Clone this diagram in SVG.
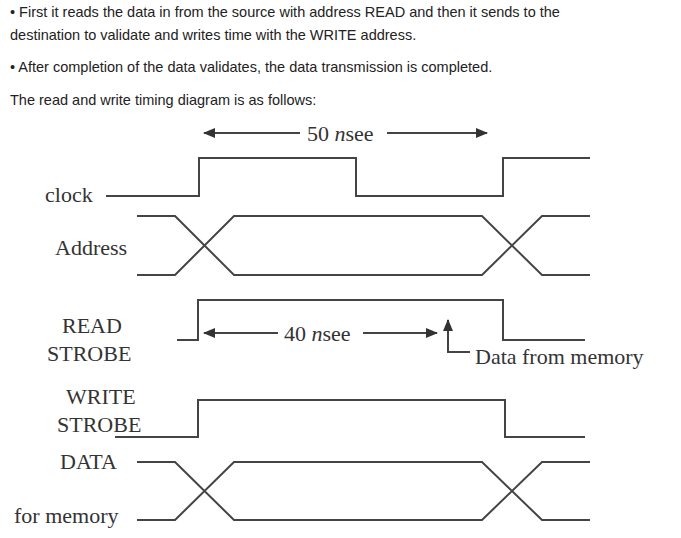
<svg xmlns="http://www.w3.org/2000/svg" width="681" height="538" viewBox="0 0 681 538">
<style>
.t{font-family:"Liberation Sans",Arial,sans-serif;font-size:14.5px;fill:#222}
.l{font-family:"Liberation Serif","Times New Roman",serif;font-size:22px;fill:#333}
.w{fill:none;stroke:#444;stroke-width:2}
</style>
<defs><marker id="a" markerWidth="12" markerHeight="10" refX="11" refY="5" orient="auto" markerUnits="userSpaceOnUse"><path d="M0,0 L12,5 L0,10 Z" fill="#333"/></marker></defs>
<rect width="681" height="538" fill="#fff"/>
<g id="text">
<text class="t" x="10" y="17">• First it reads the data in from the source with address READ and then it sends to the</text>
<text class="t" x="10" y="40">destination to validate and writes time with the WRITE address.</text>
<text class="t" x="10" y="72">• After completion of the data validates, the data transmission is completed.</text>
<text class="t" x="10" y="105">The read and write timing diagram is as follows:</text>
</g>
<g id="clock"><text class="l" x="45" y="202">clock</text><path class="w" d="M106,196H199V158H356V196H503V158H590"/></g>
<g id="address"><text class="l" x="55" y="255">Address</text><path class="w" d="M137,216H175L234,275H482L542,216H590M137,275H175L234,216H482L542,275H590"/></g>
<g id="read"><text class="l" x="62" y="333">READ</text><text class="l" x="47" y="361">STROBE</text><path class="w" d="M177,340H198V300H503V340H585"/></g>
<g id="write"><text class="l" x="66" y="404">WRITE</text><text class="l" x="57" y="432">STROBE</text><path class="w" d="M115,437H198V400H505V437H585"/></g>
<g id="data"><text class="l" x="60" y="469">DATA</text><text class="l" x="14" y="523">for memory</text><path class="w" d="M137,462H175L234,520H482L542,462H590M137,520H175L234,462H482L542,520H590"/></g>
<g id="connectors">
<path class="w" d="M300,133H204" marker-end="url(#a)"/><path class="w" d="M387,133H487" marker-end="url(#a)"/>
<text class="l" x="307" y="141">50 <tspan font-style="italic">n</tspan>see</text>
<path class="w" d="M278,333H204" marker-end="url(#a)"/><path class="w" d="M363,333H437" marker-end="url(#a)"/>
<text class="l" x="284" y="341">40 <tspan font-style="italic">n</tspan>see</text>
<path class="w" d="M470,352H448V320" marker-end="url(#a)"/>
<text class="l" x="475" y="364">Data from memory</text>
</g>
</svg>
